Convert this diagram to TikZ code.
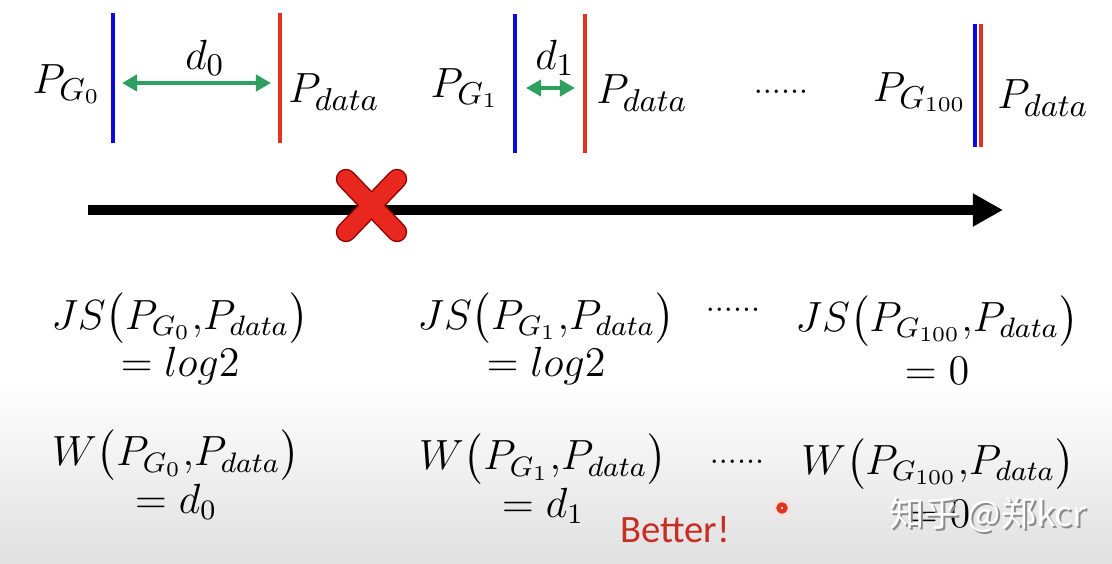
\documentclass[tikz,border=0pt]{standalone}
\usepackage{amsmath}
\usepackage{fontspec}
\setsansfont{Carlito}
\newfontfamily\cjkfont{Noto Sans CJK SC}
\usetikzlibrary{arrows.meta}
\definecolor{lineblue}{RGB}{10,10,225}
\definecolor{linered}{RGB}{222,52,32}
\definecolor{gapgreen}{RGB}{45,160,95}
\definecolor{crossred}{RGB}{232,40,30}
\definecolor{betterred}{RGB}{200,45,35}
\tikzset{
  mathlabel/.style = {inner sep=0pt, font=\fontsize{12.5}{15}\selectfont},
  eqlabel/.style   = {inner sep=0pt, align=center, font=\fontsize{12}{12}\selectfont},
  dotlabel/.style  = {inner sep=0pt, font=\fontsize{9}{10}\selectfont},
  dist/.style      = {line width=1.2pt},
  gap/.style       = {{Triangle[length=1.5mm,width=1.6mm]}-{Triangle[length=1.5mm,width=1.6mm]},
                      gapgreen, line width=1.4pt},
  timeline/.style  = {-{Triangle[length=3mm,width=3.1mm]}, line width=2.9pt}
}

\begin{document}
\begin{tikzpicture}[x=0.01cm, y=-0.01cm]
  \useasboundingbox (0,0) rectangle (1112,564);
  \fill[white] (0,0) rectangle (1112,564);
  \shade[top color=white, bottom color=black!12] (0,380) rectangle (1112,564);

  \coordinate (g0top) at (113,13);  \coordinate (g0bot) at (113,143);
  \coordinate (r0top) at (280,13);  \coordinate (r0bot) at (280,143);
  \coordinate (g1top) at (515,14);  \coordinate (g1bot) at (515,153);
  \coordinate (r1top) at (585,14);  \coordinate (r1bot) at (585,153);
  \coordinate (g2top) at (975,24);  \coordinate (g2bot) at (975,147);
  \coordinate (r2top) at (981,24);  \coordinate (r2bot) at (981,147);
  \draw[dist, lineblue] (g0top) -- (g0bot);
  \draw[dist, linered]  (r0top) -- (r0bot);
  \draw[dist, lineblue] (g1top) -- (g1bot);
  \draw[dist, linered]  (r1top) -- (r1bot);
  \draw[dist, lineblue] (g2top) -- (g2bot);
  \draw[dist, linered]  (r2top) -- (r2bot);

  \node[mathlabel] (pg0)   at (67,84)   {$P_{G_0}$};
  \node[mathlabel] (pd0)   at (334,92)  {$P_{data}$};
  \node[mathlabel] (d0)    at (205,58)  {$d_0$};
  \coordinate (d0from) at (122,83);  \coordinate (d0to) at (271,83);
  \draw[gap] (d0from) -- (d0to);

  \node[mathlabel] (pg1)   at (465,88)  {$P_{G_1}$};
  \node[mathlabel] (pd1)   at (642,93)  {$P_{data}$};
  \node[mathlabel] (d1)    at (555,58)  {$d_1$};
  \coordinate (d1from) at (526,88);  \coordinate (d1to) at (575,88);
  \draw[gap] (d1from) -- (d1to);

  \node[dotlabel] (dots0) at (781,92)  {......};
  \node[mathlabel] (pg2)   at (920,92)  {$P_{G_{100}}$};
  \node[mathlabel] (pd2)   at (1043,98) {$P_{data}$};

  \coordinate (tstart) at (88,210);  \coordinate (tend) at (1003,210);
  \draw[timeline] (tstart) -- (tend);

  \coordinate (xa) at (346,179);  \coordinate (xb) at (397,232);
  \coordinate (xc) at (397,179);  \coordinate (xd) at (346,232);
  \draw[line width=5.8pt, line cap=round, red!55!black] (xa) -- (xb) (xc) -- (xd);
  \draw[line width=5pt, line cap=round, crossred] (xa) -- (xb) (xc) -- (xd);

  \node[eqlabel] (js0) at (180,339) {$JS\bigl(P_{G_0}{,}P_{data}\bigr)$\\$=log2$};
  \node[eqlabel] (js1) at (546,339) {$JS\bigl(P_{G_1}{,}P_{data}\bigr)$\\$=log2$};
  \node[dotlabel] (dots1) at (733,310) {......};
  \node[eqlabel] (js2) at (937,340) {$JS\bigl(P_{G_{100}}{,}P_{data}\bigr)$\\[3pt]$=0$};

  \node[eqlabel] (w0) at (176,475) {$W\bigl(P_{G_0}{,}P_{data}\bigr)$\\$=d_0$};
  \node[eqlabel] (w1) at (543,479) {$W\bigl(P_{G_1}{,}P_{data}\bigr)$\\$=d_1$};
  \node[dotlabel] (dots2) at (737,462) {......};
  \node[eqlabel] (w2) at (938,483) {$W\bigl(P_{G_{100}}{,}P_{data}\bigr)$\\[3pt]$=0$};

  \node[text=betterred, font=\sffamily\fontsize{11}{13}\selectfont] (better) at (675,530) {Better!};
  \fill[red!12] (782,508) circle (9);
  \draw[linered, line width=1.2pt] (782,508) circle (3.5);

  \node[text=black!45, font=\cjkfont\fontsize{10}{12}\selectfont] (wmshadow) at (990,517) {知乎 @郑kcr};
  \node[text=white, font=\cjkfont\fontsize{10}{12}\selectfont] (wm) at (988,515) {知乎 @郑kcr};
\end{tikzpicture}
\end{document}
